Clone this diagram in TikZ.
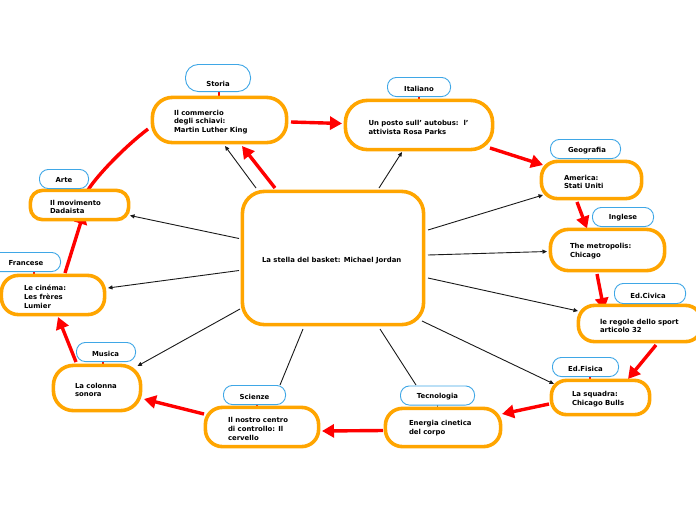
\documentclass[tikz,border=0pt]{standalone}
\usepackage{fontspec}
\setmainfont{DejaVu Sans}
\usetikzlibrary{arrows.meta}
\pgfdeclarelayer{links}
\pgfsetlayers{links,main}
\tikzset{
  box/.style args={#1/#2/#3}{draw=orange1,line width=3.6pt,fill=white,rounded corners=#3,minimum width=#1-2.8pt,minimum height=#2-2.8pt,inner sep=0pt,outer sep=0pt},
  lab/.style args={#1/#2/#3}{draw=blue1,line width=.9pt,fill=white,rounded corners=#3,minimum width=#1-.9pt,minimum height=#2-.9pt,inner sep=0pt,outer sep=0pt},
  txt/.style={font=\fontsize{6.9}{8.8}\selectfont\bfseries,text=black,align=left,inner sep=0pt,outer sep=0pt},
  ltxt/.style={txt,align=center},
  thin link/.style={draw=black!90,line width=.9pt,-{Triangle[length=4.5pt,width=4pt]}},
  thin plain/.style={draw=black!90,line width=.9pt},
  thick link/.style={draw=red,line width=3.4pt,-{Triangle[length=12pt,width=13pt]}},
  thick plain/.style={draw=red,line width=3.4pt},
  stub/.style={draw=red,line width=1.2pt},
  gstub/.style={draw=black!60,line width=1pt},
}
\definecolor{orange1}{HTML}{FFA500}
\definecolor{blue1}{HTML}{3FA7E6}
\begin{document}
\begin{tikzpicture}[x=1pt,y=-1pt]
\useasboundingbox (0,0) rectangle (696,520);
% main boxes
\node[box=184pt/136pt/22pt] (c) at (333,258) {};
\node[box=137pt/48pt/20pt] (a) at (219.5,120) {};
\node[box=150pt/52pt/22pt] (b) at (419,125) {};
\node[box=103pt/40pt/16pt] (d) at (591.5,180) {};
\node[box=117pt/44pt/18pt] (e) at (607.5,250) {};
\node[box=126pt/39pt/16pt] (f) at (640,323.5) {};
\node[box=101pt/37pt/15pt] (g) at (600.5,397.5) {};
\node[box=118pt/41pt/17pt] (h) at (443,427.5) {};
\node[box=116pt/42pt/17pt] (i) at (262,427) {};
\node[box=90pt/48pt/20pt] (j) at (97,388) {};
\node[box=106pt/42pt/17pt] (k) at (53,295) {};
\node[box=101pt/32pt/12pt] (l) at (79.5,205) {};
% subject labels
\node[lab=66pt/28pt/13pt] (la) at (218,78) {};
\node[lab=64pt/20pt/9pt] (lb) at (419,87) {};
\node[lab=71pt/20pt/9pt] (ld) at (585.5,149) {};
\node[lab=62pt/20pt/9pt] (le) at (623,217) {};
\node[lab=72pt/21pt/9pt] (lf) at (650,293.5) {};
\node[lab=67pt/20pt/9pt] (lg) at (585.5,367) {};
\node[lab=75pt/20pt/9pt] (lh) at (437.5,395.5) {};
\node[lab=63pt/20pt/9pt] (li) at (254.5,395) {};
\node[lab=60pt/20pt/9pt] (lj) at (106,352) {};
\node[lab=71pt/20pt/9pt] (lk) at (25.5,262) {};
\node[lab=50pt/20pt/9pt] (ll) at (64,179) {};
% texts
\node[txt,anchor=west] (tc) at (262,260.5) {La stella del basket: Michael Jordan};
\node[txt,anchor=west] (ta) at (174,122) {Il commercio\\degli schiavi:\\Martin Luther King};
\node[txt,anchor=west] (tb) at (368.5,127.5) {Un posto sull' autobus:~~l'\\attivista Rosa Parks};
\node[txt,anchor=west] (td) at (564,182) {America:\\Stati Uniti};
\node[txt,anchor=west] (te) at (570,251) {The metropolis:\\Chicago};
\node[txt,anchor=west] (tf) at (600,326) {le regole dello sport\\articolo 32};
\node[txt,anchor=west] (tg) at (572,399) {La squadra:\\Chicago Bulls};
\node[txt,anchor=west] (th) at (409,428) {Energia cinetica\\del corpo};
\node[txt,anchor=west] (ti) at (228,429) {Il nostro centro\\di controllo: Il\\cervello};
\node[txt,anchor=west] (tj) at (75,390) {La colonna\\sonora};
\node[txt,anchor=west] (tk) at (24,297) {Le cinéma:\\Les frères\\Lumier};
\node[txt,anchor=west] (tl) at (50,207) {Il movimento\\Dadaista};
\node[ltxt] (tla) at (218,83.5) {Storia};
\node[ltxt] (tlb) at (419,88.5) {Italiano};
\node[ltxt] (tld) at (587,150.5) {Geografia};
\node[ltxt] (tle) at (623,218) {Inglese};
\node[ltxt] (tlf) at (648,295.5) {Ed.Civica};
\node[ltxt] (tlg) at (585.5,368.5) {Ed.Fisica};
\node[ltxt] (tlh) at (437.5,396.5) {Tecnologia};
\node[ltxt] (tli) at (254.5,396.5) {Scienze};
\node[ltxt] (tlj) at (105.5,353.5) {Musica};
\node[ltxt] (tlk) at (26,263.5) {Francese};
\node[ltxt] (tll) at (64,180.5) {Arte};
\begin{pgfonlayer}{links}
% short ties between label and box
\draw[stub] ([shift={(1,0)}]la.south) -- ([shift={(-.5,1)}]a.north);
\draw[stub] (lb.south) -- (b.north);
\draw[gstub] ([shift={(2.5,0)}]ld.south) -- ([shift={(-3.5,0)}]d.north);
\draw[stub] ([shift={(-4,0)}]lf.south) -- ([shift={(6,0)}]f.north);
\draw[stub] ([shift={(4.5,0)}]lg.south) -- ([shift={(-10.5,0)}]g.north);
\draw[gstub] ([shift={(0,0)}]lh.south) -- ([shift={(-5.5,0)}]h.north);
\draw[stub] ([shift={(2.5,0)}]li.south) -- ([shift={(-5,0)}]i.north);
\draw[stub] ([shift={(-3,0)}]lj.south) -- ([shift={(6,0)}]j.north);
\draw[stub] ([shift={(8.5,0)}]lk.south) -- ([shift={(-19,0)}]k.north);
% black spokes
\draw[thin link] ([shift={(-77,-70)}]c.center) -- ([shift={(5.5,26)}]a.center);
\draw[thin link] ([shift={(46,-70)}]c.center) -- ([shift={(-17,27)}]b.center);
\draw[thin link] ([shift={(95,-28)}]c.center) -- ([shift={(-48.5,15)}]d.center);
\draw[thin link] ([shift={(95,-3)}]c.center) -- ([shift={(-60.5,1.5)}]e.center);
\draw[thin link] ([shift={(95,20)}]c.center) -- ([shift={(-62,-12.5)}]f.center);
\draw[thin link] ([shift={(89,63)}]c.center) -- ([shift={(-46.5,-13.5)}]g.center);
\draw[thin plain] ([shift={(47,71)}]c.center) -- ([shift={(-21.5,-10.5)}]lh.center);
\draw[thin plain] ([shift={(-30,71)}]c.center) -- ([shift={(25.5,-10)}]li.center);
\draw[thin link] ([shift={(-93,51)}]c.center) -- ([shift={(40.5,-22)}]j.center);
\draw[thin link] ([shift={(-94,12.5)}]c.center) -- ([shift={(55,-7)}]k.center);
\draw[thin link] ([shift={(-94,-19.5)}]c.center) -- ([shift={(50.5,10.5)}]l.center);
% red chain
\draw[thick link] ([shift={(-58,-70)}]c.center) -- ([shift={(22.5,26)}]a.center);
\draw[thick link] ([shift={(71.5,2)}]a.center) -- ([shift={(-77,-1.5)}]b.center);
\draw[thick link] ([shift={(71,23)}]b.center) -- ([shift={(-48.5,-15)}]d.center);
\draw[thick link] ([shift={(-14.5,22)}]d.center) -- ([shift={(-20.5,-21.5)}]e.center);
\draw[thick link] ([shift={(-10.5,24)}]e.center) -- ([shift={(-36,-13.5)}]f.center);
\draw[thick link] ([shift={(16,21.5)}]f.center) -- ([shift={(27.5,-18.5)}]g.center);
\draw[thick link] ([shift={(-51.5,6.5)}]g.center) -- ([shift={(59,-13.5)}]h.center);
\draw[thick link] ([shift={(-60,3)}]h.center) -- ([shift={(60,4)}]i.center);
\draw[thick link] ([shift={(-58,-13)}]i.center) -- ([shift={(47,11)}]j.center);
\draw[thick link] ([shift={(-21,-26)}]j.center) -- ([shift={(5,22)}]k.center);
\draw[thick link] ([shift={(12,-22)}]k.center) -- ([shift={(4.5,7)}]l.center);
\draw[thick plain] ([shift={(-71.5,9)}]a.center) .. controls ([shift={(-95,27)}]a.center) and ([shift={(18,-30)}]l.center) .. ([shift={(8.5,-15)}]l.center);
\end{pgfonlayer}
\end{tikzpicture}
\end{document}
